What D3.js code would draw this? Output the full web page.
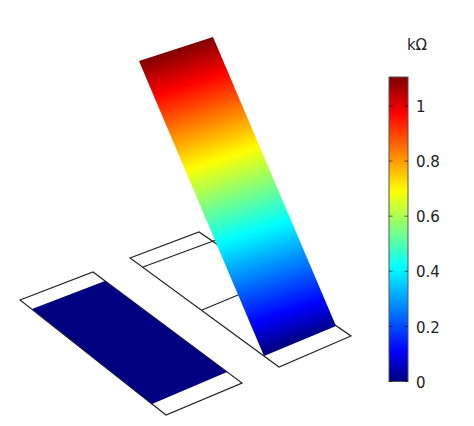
<!DOCTYPE html>
<html>
<head>
<meta charset="utf-8">
<script src="https://cdn.jsdelivr.net/npm/d3@7"></script>
<style>html,body{margin:0;padding:0;background:#fff}svg{display:block}</style>
</head>
<body>
<svg id="c" width="474" height="426"></svg>
<script>
// Data
const unitLabel = "kΩ";
const resistanceRange = [0, 1.105];
const tickValues = [0, 0.2, 0.4, 0.6, 0.8, 1];
const jetFractions = [0, 0.10, 0.375, 0.625, 0.88, 1];
const jetColors = ["#000080", "#0000ff", "#00ffff", "#ffff00", "#ff0000", "#800000"];
const leftStripValue = 0;

// Layout of the perspective scene
const ink = "#222";
const rightPlate = {a:[130,258], b:[199,232], c:[351,336], d:[279,367]};
const rightInner = [[[143,267],[216,240]], [[202,310],[250,290]]];
const rightStrip = {bl:[264,356], br:[336,326], tl:[139,61], tr:[213,37]};
const leftPlate = {a:[20,300], b:[93,272], c:[242,383], d:[166,415]};
const leftStrip = [[32,309],[105,281],[227,372],[152,404]];
const bar = {x:389, w:19, top:77, bottom:381.5};

const svg = d3.select("#c");
const line = d3.line();
const color = d3.scaleLinear()
  .domain(jetFractions.map(f => f * resistanceRange[1]))
  .range(jetColors)
  .interpolate(d3.interpolateRgb)
  .clamp(true);

function outline(p){
  svg.append("path").attr("d", line([p.a,p.b,p.c,p.d]) + "Z")
    .attr("fill","none").attr("stroke",ink).attr("stroke-width",1.2);
}

// Right plate, with the strip standing over it
outline(rightPlate);
svg.selectAll("line.inner").data(rightInner).join("line").attr("class","inner")
  .attr("x1",d=>d[0][0]).attr("y1",d=>d[0][1]).attr("x2",d=>d[1][0]).attr("y2",d=>d[1][1])
  .attr("stroke",ink).attr("stroke-width",1.2);

// Colour-map shading of the strip: isolines run parallel to its short ends
const sliceValues = d3.range(0, 101).map(i => resistanceRange[1] * i / 100);
const defs = svg.append("defs");
const midpoint = (p, q) => [(p[0]+q[0])/2, (p[1]+q[1])/2];
const strip0 = midpoint(rightStrip.bl, rightStrip.br), strip1 = midpoint(rightStrip.tl, rightStrip.tr);
const endDir = [rightStrip.tr[0]-rightStrip.tl[0], rightStrip.tr[1]-rightStrip.tl[1]];
const endLen = Math.hypot(endDir[0], endDir[1]);
const normal = [-endDir[1]/endLen, endDir[0]/endLen];
const reach = (strip1[0]-strip0[0])*normal[0] + (strip1[1]-strip0[1])*normal[1];
const stripGrad = defs.append("linearGradient").attr("id","stripGrad")
  .attr("gradientUnits","userSpaceOnUse")
  .attr("x1",strip0[0]).attr("y1",strip0[1])
  .attr("x2",strip0[0]+normal[0]*reach).attr("y2",strip0[1]+normal[1]*reach);
const barGrad = defs.append("linearGradient").attr("id","barGrad")
  .attr("x1",0).attr("y1",1).attr("x2",0).attr("y2",0);
[stripGrad, barGrad].forEach(g => g.selectAll("stop").data(sliceValues).join("stop")
  .attr("offset", v => v / resistanceRange[1])
  .attr("stop-color", v => color(v)));

svg.append("path")
  .attr("d", line([rightStrip.bl, rightStrip.br, rightStrip.tr, rightStrip.tl]) + "Z")
  .attr("fill", "url(#stripGrad)");

// Left plate with its flat strip
outline(leftPlate);
svg.append("path").attr("d", line(leftStrip) + "Z")
  .attr("fill", color(leftStripValue));

// Colour bar
const y = d3.scaleLinear().domain(resistanceRange).range([bar.bottom, bar.top]);
svg.append("rect")
  .attr("x", bar.x).attr("y", bar.top).attr("width", bar.w).attr("height", bar.bottom - bar.top)
  .attr("fill","url(#barGrad)").attr("stroke","#555").attr("stroke-width",1);

const axis = d3.axisRight(y).tickValues(tickValues).tickFormat(d3.format("~g")).tickSize(0).tickPadding(8);
const ag = svg.append("g").attr("transform", `translate(${bar.x + bar.w},0)`).call(axis);
ag.select(".domain").remove();
ag.selectAll("text").attr("dy","0.38em")
  .attr("font-family","'DejaVu Sans'").attr("font-size",15).attr("fill","#222");

svg.append("g").selectAll("path").data(tickValues).join("path")
  .attr("d", v => `M${bar.x},${y(v)}h3.5M${bar.x+bar.w},${y(v)}h-3.5`)
  .attr("stroke","#000").attr("stroke-opacity",0.55).attr("stroke-width",1).attr("fill","none");

svg.append("text").attr("x",417).attr("y",50).attr("text-anchor","middle")
  .attr("font-family","'DejaVu Sans'").attr("font-size",15).attr("fill","#222").text(unitLabel);
</script>
</body>
</html>
